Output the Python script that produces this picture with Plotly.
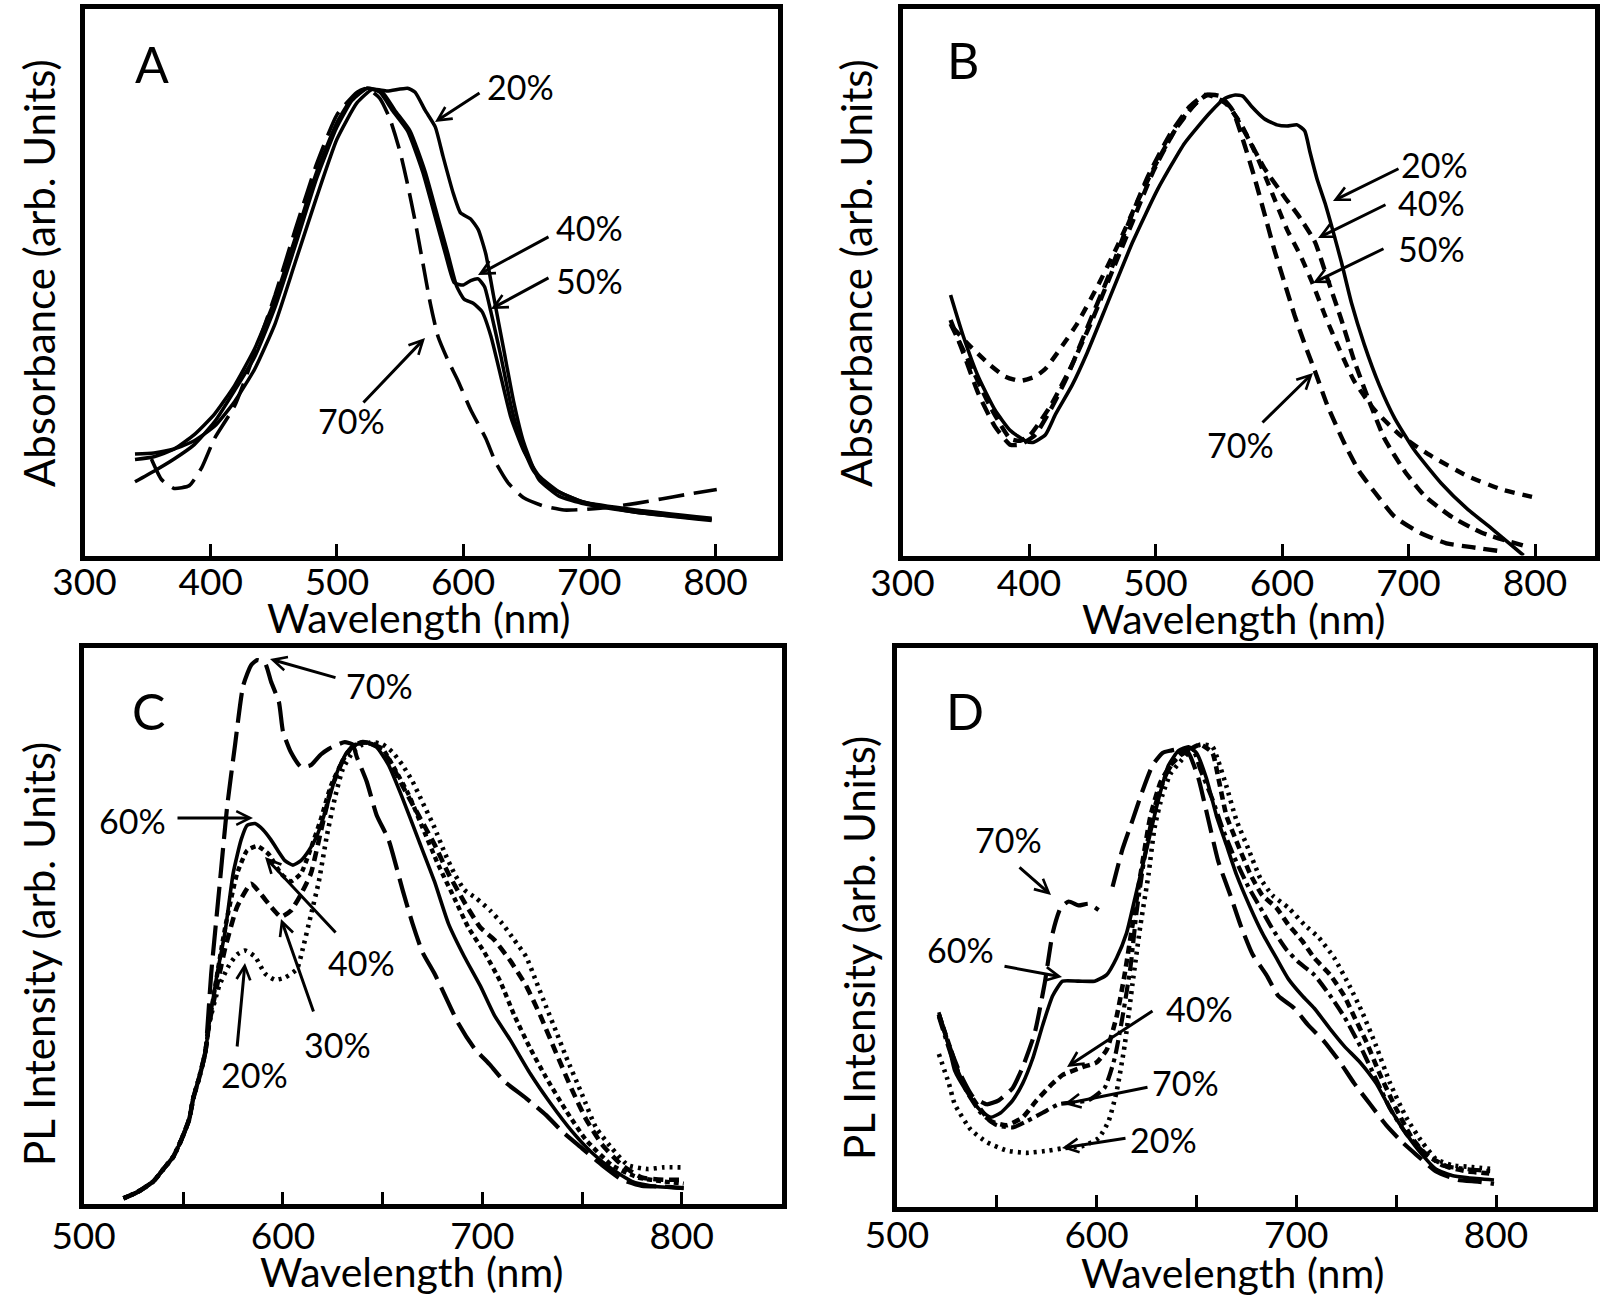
import plotly.graph_objects as go

W, H = 1607, 1297
FONT = "Lato"

# ---------------- Panel A : absorbance (wavelength nm, arb. units) ----------------
a20_nm = [340,355,371,387,403,419,435,451,467,484,500,516,528,540,556,562,570,578,584,592,598,606,612,618,624,632,640,648,660,676,696,737,797]
a20_ab = [0.188,0.190,0.197,0.212,0.238,0.283,0.342,0.423,0.534,0.652,0.756,0.822,0.846,0.843,0.848,0.841,0.808,0.778,0.726,0.660,0.623,0.612,0.593,0.549,0.475,0.379,0.283,0.209,0.142,0.112,0.098,0.083,0.068]
a40_nm = [340,355,371,387,403,419,435,451,467,484,500,512,524,534,544,556,568,578,586,593,600,606,612,617,622,630,638,646,656,672,696,737,797]
a40_ab = [0.178,0.183,0.197,0.223,0.260,0.312,0.379,0.467,0.578,0.697,0.786,0.830,0.848,0.841,0.808,0.771,0.697,0.615,0.549,0.497,0.493,0.501,0.504,0.490,0.445,0.364,0.275,0.209,0.157,0.124,0.101,0.083,0.070]
a50_nm = [340,355,371,387,403,419,435,451,467,484,500,512,524,536,546,558,570,580,588,595,601,608,615,622,630,638,648,660,676,696,737,797]
a50_ab = [0.138,0.157,0.179,0.205,0.246,0.303,0.364,0.453,0.564,0.686,0.778,0.826,0.848,0.841,0.808,0.771,0.697,0.615,0.549,0.490,0.467,0.460,0.445,0.401,0.327,0.253,0.194,0.149,0.120,0.101,0.087,0.072]
a70_nm = [353,361,371,383,393,403,419,435,451,467,484,500,516,524,534,542,550,556,562,568,574,580,588,596,606,618,626,636,648,664,680,696,716,737,757,777,801]
a70_ab = [0.179,0.142,0.126,0.131,0.164,0.216,0.275,0.371,0.475,0.593,0.712,0.800,0.841,0.848,0.830,0.793,0.734,0.675,0.608,0.534,0.460,0.401,0.357,0.320,0.268,0.216,0.172,0.135,0.109,0.094,0.087,0.088,0.092,0.099,0.107,0.115,0.124]

# ---------------- Panel B : absorbance ----------------
b20_nm = [338,348,360,373,385,397,403,413,421,434,446,462,482,502,523,543,555,563,569,576,586,596,604,612,618,622,628,634,640,647,655,665,677,689,705,726,746,766,791]
b20_ab = [0.475,0.401,0.327,0.268,0.231,0.212,0.209,0.223,0.260,0.312,0.371,0.460,0.571,0.667,0.749,0.804,0.830,0.836,0.834,0.815,0.793,0.782,0.780,0.782,0.771,0.734,0.682,0.641,0.593,0.534,0.460,0.386,0.312,0.253,0.194,0.135,0.090,0.053,0.005]
b40_nm = [338,352,369,385,393,401,417,434,450,466,482,498,515,531,541,557,572,586,602,614,626,636,647,657,669,681,697,713,734,758,795]
b40_ab = [0.423,0.357,0.275,0.216,0.212,0.223,0.275,0.349,0.430,0.519,0.608,0.697,0.771,0.819,0.836,0.819,0.763,0.704,0.652,0.615,0.571,0.504,0.430,0.357,0.283,0.216,0.157,0.112,0.075,0.046,0.020]
b50_nm = [340,352,369,381,393,405,413,425,438,454,470,486,502,519,531,539,543,555,567,580,592,604,614,624,634,645,657,673,693,717,746,774,801]
b50_ab = [0.416,0.386,0.349,0.328,0.320,0.328,0.342,0.379,0.423,0.490,0.564,0.645,0.719,0.786,0.819,0.834,0.836,0.822,0.786,0.726,0.660,0.593,0.549,0.497,0.438,0.379,0.320,0.268,0.223,0.186,0.149,0.124,0.109]
b70_nm = [338,348,360,373,385,393,405,417,430,446,462,478,494,511,527,539,551,561,569,578,586,594,602,610,618,626,636,649,661,673,689,709,730,750,772]
b70_ab = [0.430,0.371,0.297,0.238,0.205,0.205,0.223,0.268,0.327,0.416,0.504,0.601,0.689,0.763,0.815,0.836,0.834,0.808,0.756,0.689,0.623,0.556,0.497,0.438,0.386,0.338,0.275,0.209,0.157,0.120,0.075,0.046,0.027,0.020,0.013]

# ---------------- Panel C : PL intensity ----------------
c_rise_nm = [520,527,535,540,545,549,553,555,558,561]
c_rise_pl = [0.015,0.026,0.045,0.067,0.089,0.119,0.156,0.193,0.230,0.274]
c70_nm = [564,568,572,576,580,584,587,591,594,598,600,604,609,614,619,623,627,631,635,637,642,647,653,660,665,670,676,681,688,696,704,711,722,732,740,750,760,770,780,791,801]
c70_pl = [0.415,0.564,0.712,0.823,0.927,0.964,0.973,0.968,0.935,0.898,0.846,0.809,0.783,0.786,0.805,0.815,0.822,0.827,0.823,0.801,0.757,0.697,0.653,0.564,0.504,0.453,0.415,0.378,0.326,0.282,0.252,0.223,0.193,0.163,0.134,0.104,0.074,0.048,0.037,0.036,0.033]
c60_nm = [563,567,571,575,579,582,586,590,594,598,601,605,609,613,617,622,627,632,637,642,647,653,660,668,676,683,691,699,706,714,724,734,745,755,765,775,785,801]
c60_pl = [0.326,0.415,0.490,0.593,0.653,0.679,0.682,0.671,0.653,0.631,0.616,0.608,0.616,0.634,0.660,0.712,0.772,0.809,0.823,0.826,0.818,0.786,0.727,0.653,0.579,0.504,0.445,0.393,0.341,0.297,0.237,0.185,0.134,0.096,0.067,0.045,0.037,0.033]
c40_nm = [563,571,577,582,587,593,599,604,609,614,619,624,630,635,640,645,650,655,663,670,678,686,693,701,709,716,724,732,742,752,765,778,791,801]
c40_pl = [0.326,0.497,0.593,0.634,0.642,0.627,0.593,0.579,0.593,0.638,0.690,0.749,0.794,0.820,0.827,0.823,0.815,0.786,0.734,0.675,0.608,0.549,0.497,0.453,0.401,0.341,0.282,0.230,0.171,0.119,0.074,0.052,0.045,0.041]
c30_nm = [563,571,577,584,589,594,599,604,609,614,619,624,630,635,640,646,653,660,668,676,683,691,699,706,714,722,729,737,745,752,760,770,780,791,801]
c30_pl = [0.326,0.460,0.534,0.575,0.556,0.534,0.516,0.527,0.556,0.593,0.668,0.742,0.794,0.820,0.827,0.823,0.797,0.749,0.697,0.645,0.593,0.542,0.497,0.475,0.438,0.393,0.341,0.274,0.208,0.156,0.111,0.074,0.052,0.048,0.048]
c20_nm = [563,568,573,577,581,586,591,596,601,607,610,614,618,622,626,630,635,640,645,650,655,660,665,670,676,681,686,691,697,704,710,716,722,727,732,737,742,750,757,765,773,783,791,801]
c20_pl = [0.326,0.393,0.430,0.449,0.456,0.445,0.415,0.404,0.408,0.423,0.460,0.519,0.579,0.660,0.727,0.779,0.809,0.823,0.827,0.823,0.809,0.786,0.757,0.720,0.675,0.631,0.593,0.564,0.549,0.527,0.504,0.475,0.445,0.401,0.356,0.312,0.267,0.200,0.141,0.104,0.074,0.067,0.070,0.070]

# ---------------- Panel D : PL intensity ----------------
d60_nm = [521,526,529,535,541,547,552,558,563,568,573,578,583,591,599,605,610,615,620,626,631,636,641,646,650,655,660,665,670,677,683,690,696,703,709,717,724,732,740,747,755,763,770,778,786,799]
d60_pl = [0.350,0.290,0.246,0.209,0.179,0.164,0.172,0.194,0.224,0.268,0.327,0.379,0.405,0.405,0.405,0.416,0.446,0.490,0.564,0.653,0.727,0.787,0.813,0.820,0.809,0.764,0.698,0.646,0.594,0.535,0.490,0.446,0.409,0.379,0.357,0.320,0.290,0.261,0.224,0.179,0.135,0.098,0.072,0.061,0.057,0.053]
d70u_nm = [521,527,532,538,545,551,558,563,569,574,578,582,586,591,596,601,None,608,613,618,623,628,633,637,642,646,651,656,661,667,672,678,685,691,699,706,714,722,729,737,745,753,760,770,781,791,799]
d70u_pl = [0.346,0.283,0.239,0.201,0.187,0.194,0.216,0.253,0.313,0.401,0.490,0.535,0.546,0.539,0.542,0.531,None,0.572,0.639,0.690,0.742,0.787,0.809,0.813,0.816,0.809,0.764,0.690,0.616,0.557,0.505,0.453,0.416,0.379,0.357,0.327,0.298,0.261,0.224,0.187,0.150,0.120,0.098,0.068,0.053,0.050,0.046]
d40_nm = [521,527,532,540,547,555,563,570,578,583,588,593,600,605,610,614,618,622,627,632,637,642,647,652,658,661,665,670,677,683,690,696,703,709,717,724,729,735,742,750,758,765,776,786,799]
d40_pl = [0.346,0.283,0.231,0.187,0.157,0.150,0.164,0.194,0.224,0.239,0.246,0.253,0.261,0.283,0.342,0.416,0.505,0.594,0.698,0.757,0.787,0.805,0.816,0.824,0.809,0.764,0.698,0.653,0.594,0.557,0.535,0.505,0.476,0.446,0.416,0.379,0.342,0.298,0.239,0.179,0.127,0.098,0.076,0.068,0.064]
d70l_nm = [521,527,535,542,550,558,565,573,581,588,596,604,609,613,617,620,624,629,635,640,645,649,652,658,663,669,676,682,688,695,701,709,717,724,732,740,747,755,763,773,786,799]
d70l_pl = [0.342,0.276,0.209,0.172,0.150,0.146,0.157,0.172,0.187,0.190,0.194,0.216,0.268,0.342,0.431,0.527,0.624,0.713,0.772,0.801,0.816,0.809,0.779,0.727,0.676,0.624,0.572,0.535,0.498,0.461,0.439,0.416,0.379,0.342,0.290,0.231,0.179,0.135,0.105,0.079,0.072,0.068]
d20_nm = [521,526,529,537,545,555,565,576,583,593,601,606,610,614,618,622,626,629,633,637,642,647,652,658,661,665,670,676,682,688,696,704,711,719,727,733,740,747,755,763,770,778,788,799]
d20_pl = [0.276,0.224,0.187,0.142,0.120,0.105,0.101,0.105,0.109,0.113,0.127,0.157,0.209,0.290,0.401,0.505,0.594,0.676,0.735,0.772,0.794,0.813,0.824,0.820,0.794,0.750,0.690,0.639,0.587,0.557,0.535,0.505,0.483,0.446,0.394,0.350,0.290,0.224,0.164,0.120,0.090,0.079,0.076,0.072]

# tick labels
abs_ticks = [300, 400, 500, 600, 700, 800]
pl_ticks = [500, 550, 600, 650, 700, 750, 800]
pl_ticktext = ["500", "", "600", "", "700", "", "800"]

# ---------------- layout geometry (pixels) ----------------
geom = {
    "A": dict(sfx="",  left=84.5,  right=777.5,  top=8.5,   bottom=556.0,  x0=300, ppn=1.262,  yr=[0.004, 0.992],   lab=-10),
    "B": dict(sfx="2", left=902.5, right=1595.2, top=8.5,   bottom=555.5,  x0=300, ppn=1.265,  yr=[0.005, 0.992],   lab=-9),
    "C": dict(sfx="3", left=83.6,  right=781.8,  top=647.5, bottom=1203.5, x0=500, ppn=1.9936, yr=[0.0057, 0.9955], lab=-4),
    "D": dict(sfx="4", left=896.9, right=1592.5, top=647.5, bottom=1206.8, x0=500, ppn=1.997,  yr=[0.0055, 0.9956], lab=-8),
}

fig = go.Figure()

def add_line(panel, x, y, width, dash):
    g = geom[panel]
    fig.add_trace(go.Scatter(
        x=x, y=y, mode="lines", connectgaps=False, showlegend=False, hoverinfo="skip",
        line=dict(color="black", width=width, dash=dash, shape="spline", smoothing=0.5),
        xaxis="x" + g["sfx"], yaxis="y" + g["sfx"]))

add_line("A", a20_nm, a20_ab, 3.5, "solid")
add_line("A", a40_nm, a40_ab, 3.5, "solid")
add_line("A", a50_nm, a50_ab, 3.5, "solid")
add_line("A", a70_nm, a70_ab, 3.6, "26px,10px")

add_line("B", b20_nm, b20_ab, 3.6, "solid")
add_line("B", b40_nm, b40_ab, 4.4, "12px,7px")
add_line("B", b50_nm, b50_ab, 4.4, "10px,8px")
add_line("B", b70_nm, b70_ab, 4.4, "14px,8px")

add_line("C", c_rise_nm + c70_nm, c_rise_pl + c70_pl, 4.2, "30px,9px")
add_line("C", c_rise_nm + c60_nm, c_rise_pl + c60_pl, 3.6, "solid")
add_line("C", c_rise_nm + c40_nm, c_rise_pl + c40_pl, 4.4, "5px,4px")
add_line("C", c_rise_nm + c30_nm, c_rise_pl + c30_pl, 4.6, "10px,6px")
add_line("C", c_rise_nm + c20_nm, c_rise_pl + c20_pl, 4.6, "3px,5px")

add_line("D", d70u_nm, d70u_pl, 4.2, "24px,9px")
add_line("D", d60_nm, d60_pl, 3.6, "solid")
add_line("D", d40_nm, d40_pl, 4.6, "8px,5px")
add_line("D", d70l_nm, d70l_pl, 4.2, "14px,5px,4px,5px")
add_line("D", d20_nm, d20_pl, 4.6, "3px,5px")

layout = dict(width=W, height=H, margin=dict(l=0, r=0, t=0, b=0, pad=0, autoexpand=False),
              paper_bgcolor="white", plot_bgcolor="white", template="none",
              font=dict(family=FONT, color="black"), showlegend=False)

for p, g in geom.items():
    xr = [g["x0"], g["x0"] + (g["right"] - g["left"]) / g["ppn"]]
    if p in ("A", "B"):
        tv, tt = abs_ticks, [str(v) for v in abs_ticks]
    else:
        tv, tt = pl_ticks, pl_ticktext
    layout["xaxis" + g["sfx"]] = dict(
        domain=[g["left"] / W, g["right"] / W], range=xr, anchor="y" + g["sfx"],
        automargin=False,
        showline=True, mirror=True, linewidth=5, linecolor="black",
        ticks="inside", ticklen=12, tickwidth=3, tickcolor="black",
        tickvals=tv, ticktext=tt, tickfont=dict(size=37, family=FONT, color="black"),
        ticklabelstandoff=g["lab"],
        showgrid=False, zeroline=False)
    layout["yaxis" + g["sfx"]] = dict(
        domain=[1 - g["bottom"] / H, 1 - g["top"] / H], range=g["yr"], anchor="x" + g["sfx"],
        automargin=False,
        showline=True, mirror=True, linewidth=5, linecolor="black",
        ticks="", showticklabels=False, showgrid=False, zeroline=False)

fig.update_layout(**layout)

ann = []

def text(t, x, y, size=34, angle=0):
    ann.append(dict(text=t, x=x / W, y=1 - y / H, xref="paper", yref="paper", showarrow=False,
                    xanchor="center", yanchor="middle", textangle=angle,
                    font=dict(size=size, family=FONT, color="black")))

def arrow(tail, tip):
    ann.append(dict(text="", x=tip[0] / W, y=1 - tip[1] / H, xref="paper", yref="paper",
                    ax=tail[0] - tip[0], ay=tail[1] - tip[1], axref="pixel", ayref="pixel",
                    showarrow=True, arrowhead=5, arrowsize=0.9, arrowwidth=3, arrowcolor="black",
                    standoff=0, startstandoff=0))

# panel letters
text("A", 152, 64, 50)
text("B", 963, 60, 50)
text("C", 148, 711, 50)
text("D", 965, 711, 50)

# axis titles
text("Wavelength (nm)", 418, 617, 41)
text("Wavelength (nm)", 1233, 618, 41)
text("Wavelength (nm)", 411, 1271, 41)
text("Wavelength (nm)", 1232, 1272, 41)
text("Absorbance (arb. Units)", 39, 273, 42, -90)
text("Absorbance (arb. Units)", 856, 273, 42, -90)
text("PL Intensity (arb. Units)", 39, 954, 42, -90)
text("PL Intensity (arb. Units)", 859, 948, 42, -90)

# panel A labels
text("20%", 520, 86); arrow((481, 92), (435, 122))
text("40%", 589, 227); arrow((550, 236), (478, 275))
text("50%", 589, 281); arrow((550, 277), (491, 309))
text("70%", 351, 420); arrow((362, 404), (425, 338))
# panel B labels
text("20%", 1434, 165); arrow((1400, 168), (1333, 201))
text("40%", 1431, 202); arrow((1387, 204), (1318, 238))
text("50%", 1431, 248); arrow((1385, 248), (1313, 283))
text("70%", 1240, 444); arrow((1261, 424), (1313, 373))
# panel C labels
text("70%", 379, 686); arrow((337, 678), (270, 659))
text("60%", 132, 820); arrow((176, 818), (253, 818))
text("40%", 361, 963); arrow((337, 934), (265, 857))
text("30%", 337, 1044); arrow((314, 1013), (281, 919))
text("20%", 254, 1074); arrow((237, 1048), (245, 963))
# panel D labels
text("70%", 1009, 839); arrow((1018, 866), (1051, 895))
text("60%", 960, 949); arrow((1003, 966), (1062, 977))
text("40%", 1199, 1008); arrow((1154, 1010), (1067, 1067))
text("70%", 1185, 1082); arrow((1149, 1087), (1064, 1104))
text("20%", 1163, 1139); arrow((1127, 1138), (1062, 1148))

fig.update_layout(annotations=ann)
fig.write_html("out.html")
